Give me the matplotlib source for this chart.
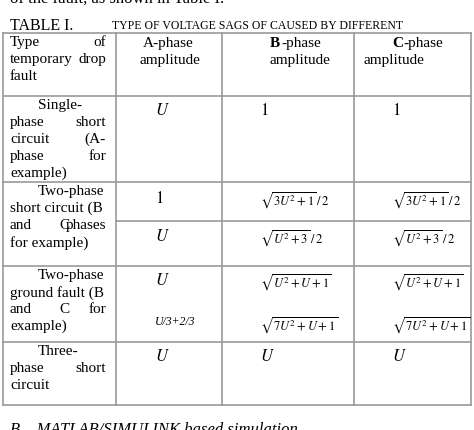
import matplotlib
matplotlib.use("Agg")
import matplotlib.pyplot as plt

plt.rcParams['mathtext.fontset'] = 'stix'
SERIF = 'Liberation Serif'

title_label = "TABLE I."
title_text = "TYPE OF VOLTAGE SAGS OF CAUSED BY DIFFERENT"
# each line: (words, mode)  mode: 'j' justified, 'l' left, 'i' indented first line
fault_types = [
    [(["Type", "of"], 'j'), (["temporary", "drop"], 'j'), (["fault"], 'l')],
    [(["Single-"], 'i'), (["phase", "short"], 'j'), (["circuit", "(A-"], 'j'),
     (["phase", "for"], 'j'), (["example)"], 'l')],
    [(["Two-phase"], 'i'), (["short circuit (B"], 'l'), (["and", "C", "phases"], 'j'),
     (["for example)"], 'l')],
    [(["Two-phase"], 'i'), (["ground fault (B"], 'l'), (["and", "C", "for"], 'j'),
     (["example)"], 'l')],
    [(["Three-"], 'i'), (["phase", "short"], 'j'), (["circuit"], 'l')],
]
a_vals = [[r"$U$"], [r"$1$", r"$U$"], [r"$U$", "U/3+2/3"], [r"$U$"]]
b_vals = [[r"$1$"], [r"$\sqrt{3U^2+1}\,/\,2$", r"$\sqrt{U^2+3}\,/\,2$"],
          [r"$\sqrt{U^2+U+1}$", r"$\sqrt{7U^2+U+1}$"], [r"$U$"]]
c_vals = b_vals

fig = plt.figure(figsize=(4.74, 4.31), dpi=100)
ax = fig.add_axes([0, 0, 1, 1])
ax.set_xlim(0, 474); ax.set_ylim(431, 0); ax.axis('off')

lc = '#999999'
xs = [3, 116, 222, 354, 471]
row_y = [34, 97, 183, 267, 343, 406]
for y in row_y:
    ax.plot([xs[0], xs[-1]], [y, y], color=lc, lw=1.2)
for x in xs:
    ax.plot([x, x], [row_y[0], row_y[-1]], color=lc, lw=1.2)
ax.plot([xs[1], xs[-1]], [222, 222], color=lc, lw=1.2)

fs = 11
ax.text(10, -1, "of the fault, as shown in Table I.", family=SERIF, fontsize=12, va='center')
ax.text(10, 26, title_label, family=SERIF, fontsize=11.5, va='center')
ax.text(112, 26, title_text, family=SERIF, fontsize=8.5, va='center')

def T(x, y, s, **kw):
    ax.text(x, y, s, family=SERIF, fontsize=fs, va='top', **kw)

# headers
T(168, 37, "A-phase", ha='center')
T(140, 54, "amplitude")
T(270, 37, "B", weight='bold'); T(281, 37, "-phase")
T(270, 54, "amplitude")
T(392, 37, "C", weight='bold'); T(403, 37, "-phase")
T(364, 54, "amplitude")

L, R = 10, 106
for i, lines in enumerate(fault_types):
    y = row_y[i] + 2
    for words, mode in lines:
        if mode == 'l':
            T(L, y, words[0])
        elif mode == 'i':
            T(38, y, words[0])
        else:
            n = len(words)
            for k, w in enumerate(words):
                if k == 0:
                    T(L, y, w)
                elif k == n - 1:
                    T(R, y, w, ha='right')
                else:
                    T((L + R) / 2 + 6, y, w, ha='center')
        y += 17

col_x = [155, 260, 392]
sub_y = [[103], [191, 229], [273, 316], [349]]
for r in range(4):
    for k in range(len(a_vals[r])):
        y = sub_y[r][k]
        for c, vals in enumerate([a_vals, b_vals, c_vals]):
            s = vals[r][k]
            size = 9 if s.startswith(r"$\sqrt") else (8.5 if s == "U/3+2/3" else 12)
            ax.text(col_x[c], y, s, family=SERIF, fontsize=size, va='top',
                    style='italic' if s == "U/3+2/3" else 'normal')

ax.text(10, 430, "B.   MATLAB/SIMULINK based simulation", family=SERIF, fontsize=12,
        style='italic', va='center')
fig.savefig("out.png", dpi=100)
